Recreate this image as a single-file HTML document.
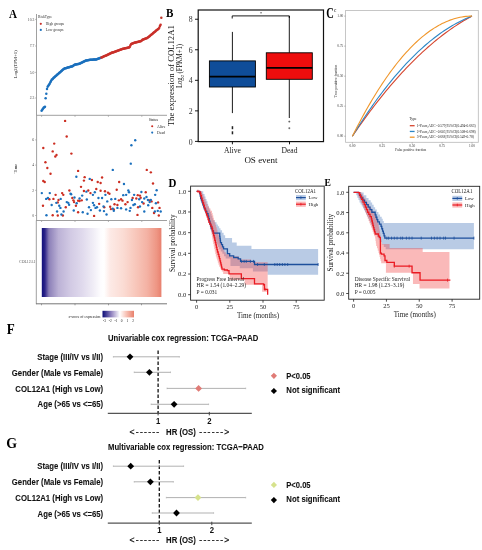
<!DOCTYPE html>
<html><head><meta charset="utf-8"><style>
html,body{margin:0;padding:0;background:#fff;width:482px;height:550px;overflow:hidden}
svg{display:block;filter:blur(0.3px)}
</style></head><body>
<svg width="482" height="550" viewBox="0 0 482 550">
<rect width="482" height="550" fill="#fff"/>
<text x="8.90" y="17.50" font-size="12" text-anchor="start" font-family="'Liberation Serif', serif" font-weight="bold" fill="#000" textLength="8.0" lengthAdjust="spacingAndGlyphs">A</text>
<text x="166.10" y="16.60" font-size="12.3" text-anchor="start" font-family="'Liberation Serif', serif" font-weight="bold" fill="#000" textLength="7.4" lengthAdjust="spacingAndGlyphs">B</text>
<text x="326.20" y="17.60" font-size="14.2" text-anchor="start" font-family="'Liberation Serif', serif" font-weight="bold" fill="#000" textLength="7.6" lengthAdjust="spacingAndGlyphs">C</text>
<text x="168.50" y="187.40" font-size="12" text-anchor="start" font-family="'Liberation Serif', serif" font-weight="bold" fill="#000" textLength="7.9" lengthAdjust="spacingAndGlyphs">D</text>
<text x="324.50" y="185.80" font-size="11" text-anchor="start" font-family="'Liberation Serif', serif" font-weight="bold" fill="#000" textLength="6.4" lengthAdjust="spacingAndGlyphs">E</text>
<text x="6.80" y="333.60" font-size="15" text-anchor="start" font-family="'Liberation Serif', serif" font-weight="bold" fill="#000" textLength="8.0" lengthAdjust="spacingAndGlyphs">F</text>
<text x="6.20" y="447.60" font-size="15.5" text-anchor="start" font-family="'Liberation Serif', serif" font-weight="bold" fill="#000" textLength="10.8" lengthAdjust="spacingAndGlyphs">G</text>
<text x="334.10" y="12.40" font-size="5.2" text-anchor="start" font-family="'Liberation Serif', serif" font-weight="normal" fill="#000" >c</text>
<line x1="36.50" y1="14.00" x2="36.50" y2="115.30" stroke="#959595" stroke-width="0.9" />
<line x1="36.00" y1="115.30" x2="167.00" y2="115.30" stroke="#959595" stroke-width="0.9" />
<line x1="35.00" y1="19.40" x2="36.50" y2="19.40" stroke="#959595" stroke-width="0.6" />
<text x="34.30" y="20.70" font-size="3.7" text-anchor="end" font-family="'Liberation Serif', serif" font-weight="normal" fill="#444" >10.3</text>
<line x1="35.00" y1="46.00" x2="36.50" y2="46.00" stroke="#959595" stroke-width="0.6" />
<text x="34.30" y="47.30" font-size="3.7" text-anchor="end" font-family="'Liberation Serif', serif" font-weight="normal" fill="#444" >7.7</text>
<line x1="35.00" y1="72.40" x2="36.50" y2="72.40" stroke="#959595" stroke-width="0.6" />
<text x="34.30" y="73.70" font-size="3.7" text-anchor="end" font-family="'Liberation Serif', serif" font-weight="normal" fill="#444" >5.0</text>
<line x1="35.00" y1="98.00" x2="36.50" y2="98.00" stroke="#959595" stroke-width="0.6" />
<text x="34.30" y="99.30" font-size="3.7" text-anchor="end" font-family="'Liberation Serif', serif" font-weight="normal" fill="#444" >2.3</text>
<line x1="41.60" y1="115.30" x2="41.60" y2="116.80" stroke="#959595" stroke-width="0.7" />
<line x1="41.60" y1="220.50" x2="41.60" y2="222.00" stroke="#959595" stroke-width="0.7" />
<line x1="75.00" y1="115.30" x2="75.00" y2="116.80" stroke="#959595" stroke-width="0.7" />
<line x1="75.00" y1="220.50" x2="75.00" y2="222.00" stroke="#959595" stroke-width="0.7" />
<line x1="108.40" y1="115.30" x2="108.40" y2="116.80" stroke="#959595" stroke-width="0.7" />
<line x1="108.40" y1="220.50" x2="108.40" y2="222.00" stroke="#959595" stroke-width="0.7" />
<line x1="141.80" y1="115.30" x2="141.80" y2="116.80" stroke="#959595" stroke-width="0.7" />
<line x1="141.80" y1="220.50" x2="141.80" y2="222.00" stroke="#959595" stroke-width="0.7" />
<text x="17.20" y="64.30" font-size="4.8" text-anchor="middle" font-family="'Liberation Serif', serif" font-weight="normal" fill="#222" transform="rotate(-90 17.2 64.3)" >Log2(TPM+1)</text>
<text x="38.00" y="18.20" font-size="3.7" text-anchor="start" font-family="'Liberation Serif', serif" font-weight="normal" fill="#333" >RiskType</text>
<circle cx="40.8" cy="23.8" r="1.1" fill="#c9302a"/>
<text x="45.70" y="25.10" font-size="3.7" text-anchor="start" font-family="'Liberation Serif', serif" font-weight="normal" fill="#333" >High groups</text>
<circle cx="40.8" cy="29.9" r="1.1" fill="#1b70bd"/>
<text x="45.70" y="31.30" font-size="3.7" text-anchor="start" font-family="'Liberation Serif', serif" font-weight="normal" fill="#333" >Low groups</text>
<circle cx="41.60" cy="110.80" r="1.25" fill="#1b70bd"/><circle cx="42.27" cy="109.77" r="1.25" fill="#1b70bd"/><circle cx="42.94" cy="108.75" r="1.25" fill="#1b70bd"/><circle cx="43.62" cy="107.81" r="1.25" fill="#1b70bd"/><circle cx="44.29" cy="107.27" r="1.25" fill="#1b70bd"/><circle cx="44.96" cy="106.73" r="1.25" fill="#1b70bd"/><circle cx="45.63" cy="98.35" r="1.25" fill="#1b70bd"/><circle cx="46.31" cy="93.85" r="1.25" fill="#1b70bd"/><circle cx="46.98" cy="88.99" r="1.25" fill="#1b70bd"/><circle cx="47.65" cy="86.71" r="1.25" fill="#1b70bd"/><circle cx="48.32" cy="85.69" r="1.25" fill="#1b70bd"/><circle cx="49.00" cy="84.67" r="1.25" fill="#1b70bd"/><circle cx="49.67" cy="83.65" r="1.25" fill="#1b70bd"/><circle cx="50.34" cy="82.35" r="1.25" fill="#1b70bd"/><circle cx="51.01" cy="81.04" r="1.25" fill="#1b70bd"/><circle cx="51.68" cy="79.82" r="1.25" fill="#1b70bd"/><circle cx="52.36" cy="79.14" r="1.25" fill="#1b70bd"/><circle cx="53.03" cy="78.47" r="1.25" fill="#1b70bd"/><circle cx="53.70" cy="77.80" r="1.25" fill="#1b70bd"/><circle cx="54.37" cy="77.13" r="1.25" fill="#1b70bd"/><circle cx="55.05" cy="76.51" r="1.25" fill="#1b70bd"/><circle cx="55.72" cy="75.95" r="1.25" fill="#1b70bd"/><circle cx="56.39" cy="75.38" r="1.25" fill="#1b70bd"/><circle cx="57.06" cy="74.82" r="1.25" fill="#1b70bd"/><circle cx="57.74" cy="74.26" r="1.25" fill="#1b70bd"/><circle cx="58.41" cy="73.69" r="1.25" fill="#1b70bd"/><circle cx="59.08" cy="73.09" r="1.25" fill="#1b70bd"/><circle cx="59.75" cy="72.49" r="1.25" fill="#1b70bd"/><circle cx="60.42" cy="71.89" r="1.25" fill="#1b70bd"/><circle cx="61.10" cy="71.29" r="1.25" fill="#1b70bd"/><circle cx="61.77" cy="70.69" r="1.25" fill="#1b70bd"/><circle cx="62.44" cy="70.09" r="1.25" fill="#1b70bd"/><circle cx="63.11" cy="69.49" r="1.25" fill="#1b70bd"/><circle cx="63.79" cy="68.89" r="1.25" fill="#1b70bd"/><circle cx="64.46" cy="68.56" r="1.25" fill="#1b70bd"/><circle cx="65.13" cy="68.37" r="1.25" fill="#1b70bd"/><circle cx="65.80" cy="68.17" r="1.25" fill="#1b70bd"/><circle cx="66.48" cy="67.97" r="1.25" fill="#1b70bd"/><circle cx="67.15" cy="67.77" r="1.25" fill="#1b70bd"/><circle cx="67.82" cy="67.57" r="1.25" fill="#1b70bd"/><circle cx="68.49" cy="67.37" r="1.25" fill="#1b70bd"/><circle cx="69.16" cy="67.19" r="1.25" fill="#1b70bd"/><circle cx="69.84" cy="67.00" r="1.25" fill="#1b70bd"/><circle cx="70.51" cy="66.81" r="1.25" fill="#1b70bd"/><circle cx="71.18" cy="66.62" r="1.25" fill="#1b70bd"/><circle cx="71.85" cy="66.44" r="1.25" fill="#1b70bd"/><circle cx="72.53" cy="66.25" r="1.25" fill="#1b70bd"/><circle cx="73.20" cy="65.81" r="1.25" fill="#1b70bd"/><circle cx="73.87" cy="65.28" r="1.25" fill="#1b70bd"/><circle cx="74.54" cy="64.74" r="1.25" fill="#1b70bd"/><circle cx="75.22" cy="64.58" r="1.25" fill="#1b70bd"/><circle cx="75.89" cy="64.44" r="1.25" fill="#1b70bd"/><circle cx="76.56" cy="64.31" r="1.25" fill="#1b70bd"/><circle cx="77.23" cy="64.17" r="1.25" fill="#1b70bd"/><circle cx="77.91" cy="64.04" r="1.25" fill="#1b70bd"/><circle cx="78.58" cy="63.90" r="1.25" fill="#1b70bd"/><circle cx="79.25" cy="63.77" r="1.25" fill="#1b70bd"/><circle cx="79.92" cy="63.54" r="1.25" fill="#1b70bd"/><circle cx="80.59" cy="63.20" r="1.25" fill="#1b70bd"/><circle cx="81.27" cy="62.87" r="1.25" fill="#1b70bd"/><circle cx="81.94" cy="62.53" r="1.25" fill="#1b70bd"/><circle cx="82.61" cy="62.19" r="1.25" fill="#1b70bd"/><circle cx="83.28" cy="61.86" r="1.25" fill="#1b70bd"/><circle cx="83.96" cy="61.52" r="1.25" fill="#1b70bd"/><circle cx="84.63" cy="61.19" r="1.25" fill="#1b70bd"/><circle cx="85.30" cy="60.85" r="1.25" fill="#1b70bd"/><circle cx="85.97" cy="60.57" r="1.25" fill="#1b70bd"/><circle cx="86.65" cy="60.45" r="1.25" fill="#1b70bd"/><circle cx="87.32" cy="60.33" r="1.25" fill="#1b70bd"/><circle cx="87.99" cy="60.21" r="1.25" fill="#1b70bd"/><circle cx="88.66" cy="60.08" r="1.25" fill="#1b70bd"/><circle cx="89.33" cy="59.96" r="1.25" fill="#1b70bd"/><circle cx="90.01" cy="59.84" r="1.25" fill="#1b70bd"/><circle cx="90.68" cy="59.72" r="1.25" fill="#1b70bd"/><circle cx="91.35" cy="59.68" r="1.25" fill="#1b70bd"/><circle cx="92.02" cy="59.65" r="1.25" fill="#1b70bd"/><circle cx="92.70" cy="59.63" r="1.25" fill="#1b70bd"/><circle cx="93.37" cy="59.60" r="1.25" fill="#1b70bd"/><circle cx="94.04" cy="59.58" r="1.25" fill="#1b70bd"/><circle cx="94.71" cy="59.55" r="1.25" fill="#1b70bd"/><circle cx="95.39" cy="59.52" r="1.25" fill="#1b70bd"/><circle cx="96.06" cy="59.48" r="1.25" fill="#1b70bd"/><circle cx="96.73" cy="59.23" r="1.25" fill="#1b70bd"/><circle cx="97.40" cy="58.98" r="1.25" fill="#1b70bd"/><circle cx="98.07" cy="58.73" r="1.25" fill="#1b70bd"/><circle cx="98.75" cy="58.48" r="1.25" fill="#1b70bd"/><circle cx="99.42" cy="58.23" r="1.25" fill="#1b70bd"/><circle cx="100.09" cy="57.98" r="1.25" fill="#1b70bd"/><circle cx="100.76" cy="57.74" r="1.25" fill="#1b70bd"/><circle cx="101.44" cy="57.48" r="1.25" fill="#c9302a"/><circle cx="102.11" cy="57.19" r="1.25" fill="#c9302a"/><circle cx="102.78" cy="56.90" r="1.25" fill="#c9302a"/><circle cx="103.45" cy="56.60" r="1.25" fill="#c9302a"/><circle cx="104.13" cy="56.31" r="1.25" fill="#c9302a"/><circle cx="104.80" cy="56.02" r="1.25" fill="#c9302a"/><circle cx="105.47" cy="55.72" r="1.25" fill="#c9302a"/><circle cx="106.14" cy="55.43" r="1.25" fill="#c9302a"/><circle cx="106.81" cy="55.14" r="1.25" fill="#c9302a"/><circle cx="107.49" cy="54.81" r="1.25" fill="#c9302a"/><circle cx="108.16" cy="54.48" r="1.25" fill="#c9302a"/><circle cx="108.83" cy="54.15" r="1.25" fill="#c9302a"/><circle cx="109.50" cy="53.83" r="1.25" fill="#c9302a"/><circle cx="110.18" cy="53.50" r="1.25" fill="#c9302a"/><circle cx="110.85" cy="53.17" r="1.25" fill="#c9302a"/><circle cx="111.52" cy="52.84" r="1.25" fill="#c9302a"/><circle cx="112.19" cy="52.61" r="1.25" fill="#c9302a"/><circle cx="112.87" cy="52.39" r="1.25" fill="#c9302a"/><circle cx="113.54" cy="52.17" r="1.25" fill="#c9302a"/><circle cx="114.21" cy="51.96" r="1.25" fill="#c9302a"/><circle cx="114.88" cy="51.74" r="1.25" fill="#c9302a"/><circle cx="115.55" cy="51.52" r="1.25" fill="#c9302a"/><circle cx="116.23" cy="51.31" r="1.25" fill="#c9302a"/><circle cx="116.90" cy="51.09" r="1.25" fill="#c9302a"/><circle cx="117.57" cy="50.87" r="1.25" fill="#c9302a"/><circle cx="118.24" cy="50.62" r="1.25" fill="#c9302a"/><circle cx="118.92" cy="50.35" r="1.25" fill="#c9302a"/><circle cx="119.59" cy="50.08" r="1.25" fill="#c9302a"/><circle cx="120.26" cy="49.81" r="1.25" fill="#c9302a"/><circle cx="120.93" cy="49.53" r="1.25" fill="#c9302a"/><circle cx="121.61" cy="49.26" r="1.25" fill="#c9302a"/><circle cx="122.28" cy="48.99" r="1.25" fill="#c9302a"/><circle cx="122.95" cy="48.80" r="1.25" fill="#c9302a"/><circle cx="123.62" cy="48.64" r="1.25" fill="#c9302a"/><circle cx="124.29" cy="48.49" r="1.25" fill="#c9302a"/><circle cx="124.97" cy="48.34" r="1.25" fill="#c9302a"/><circle cx="125.64" cy="48.18" r="1.25" fill="#c9302a"/><circle cx="126.31" cy="48.03" r="1.25" fill="#c9302a"/><circle cx="126.98" cy="47.88" r="1.25" fill="#c9302a"/><circle cx="127.66" cy="47.72" r="1.25" fill="#c9302a"/><circle cx="128.33" cy="47.57" r="1.25" fill="#c9302a"/><circle cx="129.00" cy="47.41" r="1.25" fill="#c9302a"/><circle cx="129.67" cy="46.94" r="1.25" fill="#c9302a"/><circle cx="130.35" cy="45.55" r="1.25" fill="#c9302a"/><circle cx="131.02" cy="44.19" r="1.25" fill="#c9302a"/><circle cx="131.69" cy="43.84" r="1.25" fill="#c9302a"/><circle cx="132.36" cy="43.49" r="1.25" fill="#c9302a"/><circle cx="133.04" cy="43.14" r="1.25" fill="#c9302a"/><circle cx="133.71" cy="42.90" r="1.25" fill="#c9302a"/><circle cx="134.38" cy="42.74" r="1.25" fill="#c9302a"/><circle cx="135.05" cy="42.57" r="1.25" fill="#c9302a"/><circle cx="135.72" cy="42.41" r="1.25" fill="#c9302a"/><circle cx="136.40" cy="42.25" r="1.25" fill="#c9302a"/><circle cx="137.07" cy="42.08" r="1.25" fill="#c9302a"/><circle cx="137.74" cy="41.92" r="1.25" fill="#c9302a"/><circle cx="138.41" cy="41.75" r="1.25" fill="#c9302a"/><circle cx="139.09" cy="41.59" r="1.25" fill="#c9302a"/><circle cx="139.76" cy="41.43" r="1.25" fill="#c9302a"/><circle cx="140.43" cy="41.26" r="1.25" fill="#c9302a"/><circle cx="141.10" cy="41.10" r="1.25" fill="#c9302a"/><circle cx="141.78" cy="40.47" r="1.25" fill="#c9302a"/><circle cx="142.45" cy="39.84" r="1.25" fill="#c9302a"/><circle cx="143.12" cy="39.45" r="1.25" fill="#c9302a"/><circle cx="143.79" cy="39.22" r="1.25" fill="#c9302a"/><circle cx="144.46" cy="38.99" r="1.25" fill="#c9302a"/><circle cx="145.14" cy="38.75" r="1.25" fill="#c9302a"/><circle cx="145.81" cy="38.52" r="1.25" fill="#c9302a"/><circle cx="146.48" cy="38.28" r="1.25" fill="#c9302a"/><circle cx="147.15" cy="38.05" r="1.25" fill="#c9302a"/><circle cx="147.83" cy="37.56" r="1.25" fill="#c9302a"/><circle cx="148.50" cy="37.01" r="1.25" fill="#c9302a"/><circle cx="149.17" cy="36.45" r="1.25" fill="#c9302a"/><circle cx="149.84" cy="35.89" r="1.25" fill="#c9302a"/><circle cx="150.52" cy="35.33" r="1.25" fill="#c9302a"/><circle cx="151.19" cy="34.77" r="1.25" fill="#c9302a"/><circle cx="151.86" cy="34.22" r="1.25" fill="#c9302a"/><circle cx="152.53" cy="33.66" r="1.25" fill="#c9302a"/><circle cx="153.20" cy="33.10" r="1.25" fill="#c9302a"/><circle cx="153.88" cy="32.54" r="1.25" fill="#c9302a"/><circle cx="154.55" cy="31.98" r="1.25" fill="#c9302a"/><circle cx="155.22" cy="31.43" r="1.25" fill="#c9302a"/><circle cx="155.89" cy="30.87" r="1.25" fill="#c9302a"/><circle cx="156.57" cy="30.31" r="1.25" fill="#c9302a"/><circle cx="157.24" cy="29.78" r="1.25" fill="#c9302a"/><circle cx="157.91" cy="29.25" r="1.25" fill="#c9302a"/><circle cx="158.58" cy="28.73" r="1.25" fill="#c9302a"/><circle cx="159.26" cy="27.73" r="1.25" fill="#c9302a"/><circle cx="159.93" cy="26.06" r="1.25" fill="#c9302a"/><circle cx="160.60" cy="24.80" r="1.25" fill="#c9302a"/>
<circle cx="161.3" cy="17.8" r="1.25" fill="#c0392b"/>
<line x1="36.60" y1="115.30" x2="36.60" y2="220.50" stroke="#959595" stroke-width="0.9" />
<line x1="36.00" y1="220.50" x2="167.00" y2="220.50" stroke="#959595" stroke-width="0.9" />
<line x1="35.00" y1="215.50" x2="36.60" y2="215.50" stroke="#959595" stroke-width="0.6" />
<text x="34.00" y="216.80" font-size="3.7" text-anchor="end" font-family="'Liberation Serif', serif" font-weight="normal" fill="#444" >0</text>
<line x1="35.00" y1="190.30" x2="36.60" y2="190.30" stroke="#959595" stroke-width="0.6" />
<text x="34.00" y="191.60" font-size="3.7" text-anchor="end" font-family="'Liberation Serif', serif" font-weight="normal" fill="#444" >2</text>
<line x1="35.00" y1="165.10" x2="36.60" y2="165.10" stroke="#959595" stroke-width="0.6" />
<text x="34.00" y="166.40" font-size="3.7" text-anchor="end" font-family="'Liberation Serif', serif" font-weight="normal" fill="#444" >4</text>
<line x1="35.00" y1="139.90" x2="36.60" y2="139.90" stroke="#959595" stroke-width="0.6" />
<text x="34.00" y="141.20" font-size="3.7" text-anchor="end" font-family="'Liberation Serif', serif" font-weight="normal" fill="#444" >6</text>
<text x="17.20" y="168.50" font-size="4.6" text-anchor="middle" font-family="'Liberation Serif', serif" font-weight="normal" fill="#222" transform="rotate(-90 17.2 168.5)" >Time</text>
<text x="148.70" y="121.00" font-size="3.8" text-anchor="start" font-family="'Liberation Serif', serif" font-weight="normal" fill="#222" >Status</text>
<circle cx="152.2" cy="126.2" r="1.05" fill="#cc2e22"/>
<text x="157.00" y="127.50" font-size="3.8" text-anchor="start" font-family="'Liberation Serif', serif" font-weight="normal" fill="#222" >Alive</text>
<circle cx="152.2" cy="132.6" r="1.05" fill="#1b70bd"/>
<text x="157.00" y="133.90" font-size="3.8" text-anchor="start" font-family="'Liberation Serif', serif" font-weight="normal" fill="#222" >Dead</text>
<circle cx="65.1" cy="120.9" r="1.2" fill="#cc2e22"/><circle cx="66.7" cy="136.5" r="1.2" fill="#cc2e22"/><circle cx="43.3" cy="148" r="1.2" fill="#cc2e22"/><circle cx="54.2" cy="143.6" r="1.2" fill="#cc2e22"/><circle cx="52.7" cy="151.4" r="1.2" fill="#cc2e22"/><circle cx="71.4" cy="153.6" r="1.2" fill="#cc2e22"/><circle cx="135.2" cy="140.2" r="1.2" fill="#1b70bd"/><circle cx="131.4" cy="145.2" r="1.2" fill="#1b70bd"/><circle cx="56.5" cy="155" r="1.2" fill="#cc2e22"/><circle cx="55.3" cy="156.5" r="1.2" fill="#cc2e22"/><circle cx="45.44" cy="162.18" r="1.2" fill="#cc2e22"/><circle cx="47.33" cy="167.99" r="1.2" fill="#cc2e22"/><circle cx="50.52" cy="173.80" r="1.2" fill="#cc2e22"/><circle cx="43.26" cy="181.06" r="1.2" fill="#cc2e22"/><circle cx="44.71" cy="182.07" r="1.2" fill="#cc2e22"/><circle cx="78.11" cy="170.89" r="1.2" fill="#cc2e22"/><circle cx="84.65" cy="177.14" r="1.2" fill="#cc2e22"/><circle cx="83.92" cy="180.62" r="1.2" fill="#cc2e22"/><circle cx="91.91" cy="180.04" r="1.2" fill="#cc2e22"/><circle cx="102.08" cy="177.43" r="1.2" fill="#cc2e22"/><circle cx="97.72" cy="182.07" r="1.2" fill="#cc2e22"/><circle cx="100.62" cy="182.95" r="1.2" fill="#cc2e22"/><circle cx="81.02" cy="186.87" r="1.2" fill="#cc2e22"/><circle cx="83.92" cy="190.93" r="1.2" fill="#cc2e22"/><circle cx="88.28" cy="190.50" r="1.2" fill="#cc2e22"/><circle cx="90.46" cy="193.11" r="1.2" fill="#cc2e22"/><circle cx="69.40" cy="190.50" r="1.2" fill="#cc2e22"/><circle cx="62.14" cy="193.11" r="1.2" fill="#cc2e22"/><circle cx="63.30" cy="194.85" r="1.2" fill="#cc2e22"/><circle cx="55.60" cy="194.85" r="1.2" fill="#cc2e22"/><circle cx="49.36" cy="199.21" r="1.2" fill="#cc2e22"/><circle cx="53.43" cy="198.92" r="1.2" fill="#cc2e22"/><circle cx="58.51" cy="199.94" r="1.2" fill="#cc2e22"/><circle cx="57.78" cy="202.40" r="1.2" fill="#cc2e22"/><circle cx="42.97" cy="205.74" r="1.2" fill="#cc2e22"/><circle cx="65.77" cy="207.20" r="1.2" fill="#cc2e22"/><circle cx="72.31" cy="198.05" r="1.2" fill="#cc2e22"/><circle cx="73.47" cy="200.37" r="1.2" fill="#cc2e22"/><circle cx="74.05" cy="202.11" r="1.2" fill="#cc2e22"/><circle cx="75.94" cy="205.74" r="1.2" fill="#cc2e22"/><circle cx="78.11" cy="200.66" r="1.2" fill="#cc2e22"/><circle cx="79.57" cy="200.95" r="1.2" fill="#cc2e22"/><circle cx="81.74" cy="200.37" r="1.2" fill="#cc2e22"/><circle cx="96.27" cy="189.04" r="1.2" fill="#cc2e22"/><circle cx="100.62" cy="190.79" r="1.2" fill="#cc2e22"/><circle cx="104.98" cy="191.22" r="1.2" fill="#cc2e22"/><circle cx="99.17" cy="203.86" r="1.2" fill="#cc2e22"/><circle cx="104.25" cy="207.20" r="1.2" fill="#cc2e22"/><circle cx="52.70" cy="215.18" r="1.2" fill="#cc2e22"/><circle cx="57.78" cy="215.47" r="1.2" fill="#cc2e22"/><circle cx="62.87" cy="215.47" r="1.2" fill="#cc2e22"/><circle cx="78.11" cy="212.28" r="1.2" fill="#cc2e22"/><circle cx="94.09" cy="215.91" r="1.2" fill="#cc2e22"/><circle cx="41.81" cy="193.11" r="1.2" fill="#1b70bd"/><circle cx="49.80" cy="193.11" r="1.2" fill="#1b70bd"/><circle cx="46.17" cy="198.92" r="1.2" fill="#1b70bd"/><circle cx="47.91" cy="198.05" r="1.2" fill="#1b70bd"/><circle cx="51.68" cy="205.02" r="1.2" fill="#1b70bd"/><circle cx="56.33" cy="202.84" r="1.2" fill="#1b70bd"/><circle cx="59.24" cy="205.74" r="1.2" fill="#1b70bd"/><circle cx="60.40" cy="207.92" r="1.2" fill="#1b70bd"/><circle cx="60.69" cy="198.92" r="1.2" fill="#1b70bd"/><circle cx="57.06" cy="211.55" r="1.2" fill="#1b70bd"/><circle cx="61.41" cy="214.46" r="1.2" fill="#1b70bd"/><circle cx="63.59" cy="211.55" r="1.2" fill="#1b70bd"/><circle cx="66.79" cy="202.11" r="1.2" fill="#1b70bd"/><circle cx="68.24" cy="202.84" r="1.2" fill="#1b70bd"/><circle cx="69.11" cy="204.73" r="1.2" fill="#1b70bd"/><circle cx="70.56" cy="193.69" r="1.2" fill="#1b70bd"/><circle cx="71.14" cy="194.27" r="1.2" fill="#1b70bd"/><circle cx="74.48" cy="197.47" r="1.2" fill="#1b70bd"/><circle cx="76.66" cy="203.28" r="1.2" fill="#1b70bd"/><circle cx="79.57" cy="198.48" r="1.2" fill="#1b70bd"/><circle cx="82.18" cy="195.58" r="1.2" fill="#1b70bd"/><circle cx="86.39" cy="191.66" r="1.2" fill="#1b70bd"/><circle cx="86.83" cy="199.50" r="1.2" fill="#1b70bd"/><circle cx="89.01" cy="207.20" r="1.2" fill="#1b70bd"/><circle cx="90.89" cy="210.10" r="1.2" fill="#1b70bd"/><circle cx="92.93" cy="194.85" r="1.2" fill="#1b70bd"/><circle cx="92.93" cy="202.84" r="1.2" fill="#1b70bd"/><circle cx="94.81" cy="192.24" r="1.2" fill="#1b70bd"/><circle cx="94.09" cy="205.31" r="1.2" fill="#1b70bd"/><circle cx="95.54" cy="207.92" r="1.2" fill="#1b70bd"/><circle cx="96.99" cy="207.20" r="1.2" fill="#1b70bd"/><circle cx="98.45" cy="198.05" r="1.2" fill="#1b70bd"/><circle cx="102.08" cy="198.05" r="1.2" fill="#1b70bd"/><circle cx="99.90" cy="210.54" r="1.2" fill="#1b70bd"/><circle cx="103.96" cy="211.12" r="1.2" fill="#1b70bd"/><circle cx="103.53" cy="206.47" r="1.2" fill="#1b70bd"/><circle cx="105.42" cy="194.85" r="1.2" fill="#1b70bd"/><circle cx="73.76" cy="210.54" r="1.2" fill="#1b70bd"/><circle cx="82.76" cy="212.28" r="1.2" fill="#1b70bd"/><circle cx="87.55" cy="213.73" r="1.2" fill="#1b70bd"/><circle cx="46.46" cy="215.18" r="1.2" fill="#1b70bd"/><circle cx="76.37" cy="176.70" r="1.2" fill="#1b70bd"/><circle cx="89.73" cy="178.88" r="1.2" fill="#1b70bd"/><circle cx="107.99" cy="192.67" r="1.2" fill="#cc2e22"/><circle cx="109.44" cy="193.69" r="1.2" fill="#cc2e22"/><circle cx="119.17" cy="182.07" r="1.2" fill="#cc2e22"/><circle cx="116.70" cy="189.77" r="1.2" fill="#cc2e22"/><circle cx="118.88" cy="200.37" r="1.2" fill="#cc2e22"/><circle cx="121.06" cy="199.21" r="1.2" fill="#cc2e22"/><circle cx="122.51" cy="200.66" r="1.2" fill="#cc2e22"/><circle cx="114.52" cy="204.29" r="1.2" fill="#cc2e22"/><circle cx="117.43" cy="205.02" r="1.2" fill="#cc2e22"/><circle cx="125.41" cy="204.29" r="1.2" fill="#cc2e22"/><circle cx="127.59" cy="202.11" r="1.2" fill="#cc2e22"/><circle cx="132.67" cy="198.05" r="1.2" fill="#cc2e22"/><circle cx="136.31" cy="198.48" r="1.2" fill="#cc2e22"/><circle cx="137.76" cy="195.14" r="1.2" fill="#cc2e22"/><circle cx="139.94" cy="195.58" r="1.2" fill="#cc2e22"/><circle cx="140.66" cy="197.76" r="1.2" fill="#cc2e22"/><circle cx="143.57" cy="203.57" r="1.2" fill="#cc2e22"/><circle cx="145.74" cy="192.24" r="1.2" fill="#cc2e22"/><circle cx="146.76" cy="169.88" r="1.2" fill="#cc2e22"/><circle cx="150.83" cy="172.34" r="1.2" fill="#cc2e22"/><circle cx="153.01" cy="183.53" r="1.2" fill="#cc2e22"/><circle cx="149.38" cy="200.37" r="1.2" fill="#cc2e22"/><circle cx="151.55" cy="201.39" r="1.2" fill="#cc2e22"/><circle cx="110.17" cy="206.76" r="1.2" fill="#cc2e22"/><circle cx="110.89" cy="209.09" r="1.2" fill="#cc2e22"/><circle cx="113.80" cy="209.38" r="1.2" fill="#cc2e22"/><circle cx="138.05" cy="207.20" r="1.2" fill="#cc2e22"/><circle cx="137.47" cy="214.89" r="1.2" fill="#cc2e22"/><circle cx="152.28" cy="207.92" r="1.2" fill="#cc2e22"/><circle cx="154.02" cy="213.01" r="1.2" fill="#cc2e22"/><circle cx="159.54" cy="207.92" r="1.2" fill="#cc2e22"/><circle cx="158.09" cy="202.40" r="1.2" fill="#cc2e22"/><circle cx="158.81" cy="215.47" r="1.2" fill="#cc2e22"/><circle cx="112.78" cy="169.88" r="1.2" fill="#1b70bd"/><circle cx="130.79" cy="163.63" r="1.2" fill="#1b70bd"/><circle cx="123.96" cy="183.96" r="1.2" fill="#1b70bd"/><circle cx="107.26" cy="201.39" r="1.2" fill="#1b70bd"/><circle cx="111.33" cy="199.21" r="1.2" fill="#1b70bd"/><circle cx="115.25" cy="198.92" r="1.2" fill="#1b70bd"/><circle cx="123.24" cy="195.14" r="1.2" fill="#1b70bd"/><circle cx="126.14" cy="194.85" r="1.2" fill="#1b70bd"/><circle cx="128.32" cy="190.50" r="1.2" fill="#1b70bd"/><circle cx="129.04" cy="192.24" r="1.2" fill="#1b70bd"/><circle cx="134.13" cy="194.85" r="1.2" fill="#1b70bd"/><circle cx="131.95" cy="199.94" r="1.2" fill="#1b70bd"/><circle cx="134.85" cy="204.29" r="1.2" fill="#1b70bd"/><circle cx="139.21" cy="199.21" r="1.2" fill="#1b70bd"/><circle cx="141.39" cy="191.95" r="1.2" fill="#1b70bd"/><circle cx="142.11" cy="202.11" r="1.2" fill="#1b70bd"/><circle cx="144.29" cy="198.48" r="1.2" fill="#1b70bd"/><circle cx="146.47" cy="197.03" r="1.2" fill="#1b70bd"/><circle cx="147.92" cy="199.94" r="1.2" fill="#1b70bd"/><circle cx="149.67" cy="202.11" r="1.2" fill="#1b70bd"/><circle cx="150.83" cy="199.94" r="1.2" fill="#1b70bd"/><circle cx="156.64" cy="190.21" r="1.2" fill="#1b70bd"/><circle cx="155.18" cy="194.85" r="1.2" fill="#1b70bd"/><circle cx="155.91" cy="203.28" r="1.2" fill="#1b70bd"/><circle cx="148.21" cy="205.31" r="1.2" fill="#1b70bd"/><circle cx="106.53" cy="214.46" r="1.2" fill="#1b70bd"/><circle cx="112.78" cy="208.65" r="1.2" fill="#1b70bd"/><circle cx="113.80" cy="210.83" r="1.2" fill="#1b70bd"/><circle cx="117.43" cy="207.92" r="1.2" fill="#1b70bd"/><circle cx="121.06" cy="208.21" r="1.2" fill="#1b70bd"/><circle cx="126.14" cy="209.38" r="1.2" fill="#1b70bd"/><circle cx="129.77" cy="210.83" r="1.2" fill="#1b70bd"/><circle cx="130.50" cy="207.92" r="1.2" fill="#1b70bd"/><circle cx="133.40" cy="205.02" r="1.2" fill="#1b70bd"/><circle cx="139.94" cy="206.47" r="1.2" fill="#1b70bd"/><circle cx="144.29" cy="211.55" r="1.2" fill="#1b70bd"/><circle cx="154.89" cy="211.55" r="1.2" fill="#1b70bd"/><circle cx="157.80" cy="210.83" r="1.2" fill="#1b70bd"/><circle cx="160.70" cy="211.55" r="1.2" fill="#1b70bd"/>
<line x1="36.30" y1="220.50" x2="36.30" y2="304.20" stroke="#959595" stroke-width="0.9" />
<line x1="36.00" y1="303.80" x2="167.00" y2="303.80" stroke="#777" stroke-width="1.0" />
<line x1="41.50" y1="303.80" x2="41.50" y2="305.30" stroke="#777" stroke-width="0.7" />
<line x1="75.00" y1="303.80" x2="75.00" y2="305.30" stroke="#777" stroke-width="0.7" />
<line x1="108.50" y1="303.80" x2="108.50" y2="305.30" stroke="#777" stroke-width="0.7" />
<line x1="141.50" y1="303.80" x2="141.50" y2="305.30" stroke="#777" stroke-width="0.7" />
<text x="35.50" y="263.20" font-size="3.9" text-anchor="end" font-family="'Liberation Serif', serif" font-weight="normal" fill="#555" >COL12A1</text>
<defs><linearGradient id="hm" gradientUnits="userSpaceOnUse" x1="41.8" x2="161.4" y1="0" y2="0">
<stop offset="0" stop-color="#10107c"/>
<stop offset="0.025" stop-color="#2c2488"/>
<stop offset="0.06" stop-color="#8c80b8"/>
<stop offset="0.14" stop-color="#bcb2d6"/>
<stop offset="0.24" stop-color="#d2cae4"/>
<stop offset="0.34" stop-color="#e0daed"/>
<stop offset="0.43" stop-color="#f0edf6"/>
<stop offset="0.49" stop-color="#fdfcfe"/>
<stop offset="0.52" stop-color="#ffffff"/>
<stop offset="0.57" stop-color="#fdeae6"/>
<stop offset="0.68" stop-color="#fbdcd4"/>
<stop offset="0.78" stop-color="#f8c8bc"/>
<stop offset="0.88" stop-color="#f4b2a4"/>
<stop offset="0.96" stop-color="#ee9684"/>
<stop offset="1" stop-color="#e8806e"/>
</linearGradient>
<linearGradient id="cb" x1="0" x2="1" y1="0" y2="0">
<stop offset="0" stop-color="#0c0c78"/>
<stop offset="0.3" stop-color="#9a8cc4"/>
<stop offset="0.55" stop-color="#ffffff"/>
<stop offset="0.75" stop-color="#f8c4b8"/>
<stop offset="1" stop-color="#e8806c"/>
</linearGradient></defs>
<rect x="41.8" y="228" width="119.6" height="69" fill="url(#hm)"/>
<text x="68.50" y="318.00" font-size="3.78" text-anchor="start" font-family="'Liberation Serif', serif" font-weight="normal" fill="#1a1a1a" >z-score of expression</text>
<rect x="102.5" y="310.8" width="31.5" height="6.6" fill="url(#cb)"/>
<text x="104.50" y="322.00" font-size="3.5" text-anchor="middle" font-family="'Liberation Serif', serif" font-weight="normal" fill="#1a1a1a" >-3</text>
<text x="110.20" y="322.00" font-size="3.5" text-anchor="middle" font-family="'Liberation Serif', serif" font-weight="normal" fill="#1a1a1a" >-2</text>
<text x="115.90" y="322.00" font-size="3.5" text-anchor="middle" font-family="'Liberation Serif', serif" font-weight="normal" fill="#1a1a1a" >-1</text>
<text x="121.60" y="322.00" font-size="3.5" text-anchor="middle" font-family="'Liberation Serif', serif" font-weight="normal" fill="#1a1a1a" >0</text>
<text x="127.30" y="322.00" font-size="3.5" text-anchor="middle" font-family="'Liberation Serif', serif" font-weight="normal" fill="#1a1a1a" >1</text>
<text x="133.00" y="322.00" font-size="3.5" text-anchor="middle" font-family="'Liberation Serif', serif" font-weight="normal" fill="#1a1a1a" >2</text>
<rect x="198.2" y="10" width="125.3" height="131.6" fill="none" stroke="#111" stroke-width="1.2"/>
<line x1="195.00" y1="141.40" x2="198.20" y2="141.40" stroke="#000" stroke-width="0.9" />
<text x="192.60" y="144.50" font-size="7.8" text-anchor="end" font-family="'Liberation Serif', serif" font-weight="normal" fill="#333" >0</text>
<line x1="195.00" y1="110.86" x2="198.20" y2="110.86" stroke="#000" stroke-width="0.9" />
<text x="192.60" y="113.96" font-size="7.8" text-anchor="end" font-family="'Liberation Serif', serif" font-weight="normal" fill="#333" >2</text>
<line x1="195.00" y1="80.32" x2="198.20" y2="80.32" stroke="#000" stroke-width="0.9" />
<text x="192.60" y="83.42" font-size="7.8" text-anchor="end" font-family="'Liberation Serif', serif" font-weight="normal" fill="#333" >4</text>
<line x1="195.00" y1="49.78" x2="198.20" y2="49.78" stroke="#000" stroke-width="0.9" />
<text x="192.60" y="52.88" font-size="7.8" text-anchor="end" font-family="'Liberation Serif', serif" font-weight="normal" fill="#333" >6</text>
<line x1="195.00" y1="19.24" x2="198.20" y2="19.24" stroke="#000" stroke-width="0.9" />
<text x="192.60" y="22.34" font-size="7.8" text-anchor="end" font-family="'Liberation Serif', serif" font-weight="normal" fill="#333" >8</text>
<text x="173.60" y="75.70" font-size="8.85" text-anchor="middle" font-family="'Liberation Serif', serif" font-weight="normal" fill="#111" transform="rotate(-90 173.6 75.7)" textLength="101" lengthAdjust="spacingAndGlyphs">The expression of COL12A1</text>
<text x="182" y="66" font-size="7.6" text-anchor="middle" font-family="'Liberation Serif', serif" fill="#111" transform="rotate(-90 182 66)" textLength="44" lengthAdjust="spacingAndGlyphs">Log<tspan font-size="5" dy="1.8">2</tspan><tspan dy="-1.8"> (FPKM+1)</tspan></text>
<line x1="232.40" y1="141.40" x2="232.40" y2="144.30" stroke="#000" stroke-width="0.9" />
<line x1="289.50" y1="141.40" x2="289.50" y2="144.30" stroke="#000" stroke-width="0.9" />
<text x="232.40" y="152.70" font-size="7.6" text-anchor="middle" font-family="'Liberation Serif', serif" font-weight="normal" fill="#222" >Alive</text>
<text x="289.50" y="152.70" font-size="7.6" text-anchor="middle" font-family="'Liberation Serif', serif" font-weight="normal" fill="#222" >Dead</text>
<text x="261.00" y="163.00" font-size="9.0" text-anchor="middle" font-family="'Liberation Serif', serif" font-weight="normal" fill="#111" >OS event</text>
<line x1="232.40" y1="31.90" x2="232.40" y2="60.90" stroke="#000" stroke-width="0.9" />
<line x1="232.40" y1="87.00" x2="232.40" y2="113.10" stroke="#000" stroke-width="0.9" />
<rect x="209.4" y="60.9" width="46" height="26.1" fill="#0f4d99" stroke="#000" stroke-width="0.9"/>
<line x1="209.40" y1="76.60" x2="255.40" y2="76.60" stroke="#000" stroke-width="1.8" />
<rect x="231.7" y="126.2" width="1.5" height="3" fill="#222"/>
<rect x="231.7" y="131.3" width="1.5" height="3" fill="#222"/>
<line x1="289.30" y1="15.90" x2="289.30" y2="52.80" stroke="#000" stroke-width="0.9" />
<line x1="289.30" y1="79.30" x2="289.30" y2="118.00" stroke="#000" stroke-width="0.9" />
<rect x="266.3" y="52.8" width="46" height="26.5" fill="#ee0d0d" stroke="#000" stroke-width="0.9"/>
<line x1="266.30" y1="67.80" x2="312.30" y2="67.80" stroke="#000" stroke-width="1.8" />
<path d="M288.3 121.6h2M289.3 120.6v2" stroke="#333" stroke-width="0.6"/>
<path d="M288.3 128.2h2M289.3 127.19999999999999v2" stroke="#333" stroke-width="0.6"/>
<polyline points="232.2,18.5 232.2,15.9 289.3,15.9 289.3,18" fill="none" stroke="#000" stroke-width="0.9"/>
<text x="260.90" y="14.50" font-size="5" text-anchor="middle" font-family="'Liberation Serif', serif" font-weight="normal" fill="#222" >*</text>
<rect x="345.6" y="10.5" width="132.7" height="131.8" fill="none" stroke="#b8b8b8" stroke-width="0.8"/>
<line x1="344.00" y1="136.20" x2="345.60" y2="136.20" stroke="#888" stroke-width="0.5" />
<text x="343.30" y="137.30" font-size="3.4" text-anchor="end" font-family="'Liberation Serif', serif" font-weight="normal" fill="#333" >0.00</text>
<line x1="352.40" y1="142.30" x2="352.40" y2="143.80" stroke="#888" stroke-width="0.5" />
<text x="352.40" y="146.50" font-size="3.4" text-anchor="middle" font-family="'Liberation Serif', serif" font-weight="normal" fill="#333" >0.00</text>
<line x1="344.00" y1="106.17" x2="345.60" y2="106.17" stroke="#888" stroke-width="0.5" />
<text x="343.30" y="107.27" font-size="3.4" text-anchor="end" font-family="'Liberation Serif', serif" font-weight="normal" fill="#333" >0.25</text>
<line x1="382.30" y1="142.30" x2="382.30" y2="143.80" stroke="#888" stroke-width="0.5" />
<text x="382.30" y="146.50" font-size="3.4" text-anchor="middle" font-family="'Liberation Serif', serif" font-weight="normal" fill="#333" >0.25</text>
<line x1="344.00" y1="76.15" x2="345.60" y2="76.15" stroke="#888" stroke-width="0.5" />
<text x="343.30" y="77.25" font-size="3.4" text-anchor="end" font-family="'Liberation Serif', serif" font-weight="normal" fill="#333" >0.50</text>
<line x1="412.20" y1="142.30" x2="412.20" y2="143.80" stroke="#888" stroke-width="0.5" />
<text x="412.20" y="146.50" font-size="3.4" text-anchor="middle" font-family="'Liberation Serif', serif" font-weight="normal" fill="#333" >0.50</text>
<line x1="344.00" y1="46.12" x2="345.60" y2="46.12" stroke="#888" stroke-width="0.5" />
<text x="343.30" y="47.23" font-size="3.4" text-anchor="end" font-family="'Liberation Serif', serif" font-weight="normal" fill="#333" >0.75</text>
<line x1="442.10" y1="142.30" x2="442.10" y2="143.80" stroke="#888" stroke-width="0.5" />
<text x="442.10" y="146.50" font-size="3.4" text-anchor="middle" font-family="'Liberation Serif', serif" font-weight="normal" fill="#333" >0.75</text>
<line x1="344.00" y1="16.10" x2="345.60" y2="16.10" stroke="#888" stroke-width="0.5" />
<text x="343.30" y="17.20" font-size="3.4" text-anchor="end" font-family="'Liberation Serif', serif" font-weight="normal" fill="#333" >1.00</text>
<line x1="472.00" y1="142.30" x2="472.00" y2="143.80" stroke="#888" stroke-width="0.5" />
<text x="472.00" y="146.50" font-size="3.4" text-anchor="middle" font-family="'Liberation Serif', serif" font-weight="normal" fill="#333" >1.00</text>
<text x="410.80" y="150.60" font-size="3.5" text-anchor="middle" font-family="'Liberation Serif', serif" font-weight="normal" fill="#222" >False positive fraction</text>
<text x="336.60" y="81.00" font-size="3.8" text-anchor="middle" font-family="'Liberation Serif', serif" font-weight="normal" fill="#222" transform="rotate(-90 336.6 81)" >True positive fraction</text>
<polyline points="352.40,136.20 354.39,133.27 356.39,130.38 358.38,127.51 360.37,124.68 362.37,121.88 364.36,119.11 366.35,116.37 368.35,113.66 370.34,110.99 372.33,108.34 374.33,105.73 376.32,103.15 378.31,100.60 380.31,98.08 382.30,95.59 384.29,93.13 386.29,90.71 388.28,88.32 390.27,85.95 392.27,83.62 394.26,81.32 396.25,79.06 398.25,76.82 400.24,74.61 402.23,72.44 404.23,70.30 406.22,68.18 408.21,66.10 410.21,64.06 412.20,62.04 414.19,60.05 416.19,58.10 418.18,56.17 420.17,54.28 422.17,52.42 424.16,50.59 426.15,48.79 428.15,47.03 430.14,45.29 432.13,43.59 434.13,41.92 436.12,40.28 438.11,38.67 440.11,37.09 442.10,35.54 444.09,34.03 446.09,32.54 448.08,31.09 450.07,29.67 452.07,28.28 454.06,26.92 456.05,25.59 458.05,24.29 460.04,23.03 462.03,21.80 464.03,20.59 466.02,19.42 468.01,18.28 470.01,17.18 472.00,16.10" fill="none" stroke="#d6452e" stroke-width="1.1"/>
<polyline points="352.40,136.20 354.39,132.98 356.39,129.80 358.38,126.66 360.37,123.56 362.37,120.50 364.36,117.49 366.35,114.51 368.35,111.58 370.34,108.69 372.33,105.84 374.33,103.03 376.32,100.27 378.31,97.54 380.31,94.86 382.30,92.21 384.29,89.61 386.29,87.05 388.28,84.53 390.27,82.06 392.27,79.62 394.26,77.22 396.25,74.87 398.25,72.56 400.24,70.29 402.23,68.06 404.23,65.87 406.22,63.73 408.21,61.62 410.21,59.56 412.20,57.53 414.19,55.55 416.19,53.61 418.18,51.72 420.17,49.86 422.17,48.04 424.16,46.27 426.15,44.54 428.15,42.84 430.14,41.19 432.13,39.59 434.13,38.02 436.12,36.49 438.11,35.01 440.11,33.57 442.10,32.16 444.09,30.80 446.09,29.48 448.08,28.21 450.07,26.97 452.07,25.77 454.06,24.62 456.05,23.51 458.05,22.44 460.04,21.41 462.03,20.42 464.03,19.47 466.02,18.57 468.01,17.70 470.01,16.88 472.00,16.10" fill="none" stroke="#2b86c6" stroke-width="1.1"/>
<polyline points="352.40,136.20 354.39,132.23 356.39,128.33 358.38,124.49 360.37,120.72 362.37,117.02 364.36,113.38 366.35,109.81 368.35,106.31 370.34,102.87 372.33,99.50 374.33,96.20 376.32,92.96 378.31,89.79 380.31,86.69 382.30,83.66 384.29,80.69 386.29,77.78 388.28,74.95 390.27,72.18 392.27,69.48 394.26,66.84 396.25,64.27 398.25,61.77 400.24,59.34 402.23,56.97 404.23,54.67 406.22,52.43 408.21,50.26 410.21,48.16 412.20,46.12 414.19,44.16 416.19,42.26 418.18,40.42 420.17,38.65 422.17,36.95 424.16,35.32 426.15,33.75 428.15,32.25 430.14,30.81 432.13,29.44 434.13,28.14 436.12,26.91 438.11,25.74 440.11,24.64 442.10,23.61 444.09,22.64 446.09,21.74 448.08,20.90 450.07,20.14 452.07,19.44 454.06,18.80 456.05,18.24 458.05,17.73 460.04,17.30 462.03,16.93 464.03,16.63 466.02,16.40 468.01,16.23 470.01,16.13 472.00,16.10" fill="none" stroke="#f0962a" stroke-width="1.1"/>
<text x="409.40" y="119.60" font-size="3.6" text-anchor="start" font-family="'Liberation Serif', serif" font-weight="normal" fill="#222" >Type</text>
<line x1="409.80" y1="125.70" x2="414.60" y2="125.70" stroke="#d6452e" stroke-width="1.3" />
<text x="416.70" y="126.80" font-size="3.5" text-anchor="start" font-family="'Liberation Serif', serif" font-weight="normal" fill="#222" >1-Years,AUC=0.579,95%CI(0.494-0.663)</text>
<line x1="409.80" y1="131.45" x2="414.60" y2="131.45" stroke="#2b86c6" stroke-width="1.3" />
<text x="416.70" y="132.55" font-size="3.5" text-anchor="start" font-family="'Liberation Serif', serif" font-weight="normal" fill="#222" >2-Years,AUC=0.603,95%CI(0.508-0.698)</text>
<line x1="409.80" y1="137.20" x2="414.60" y2="137.20" stroke="#f0962a" stroke-width="1.3" />
<text x="416.70" y="138.30" font-size="3.5" text-anchor="start" font-family="'Liberation Serif', serif" font-weight="normal" fill="#222" >3-Years,AUC=0.668,95%CI(0.549-0.78)</text>
<polygon points="196.60,191.30 201.91,191.30 201.91,191.30 203.24,191.30 203.24,193.88 204.57,193.88 204.57,196.47 205.54,196.47 205.54,198.88 206.52,198.88 206.52,201.30 207.49,201.30 207.49,203.71 208.15,203.71 208.15,205.78 208.82,205.78 208.82,207.84 209.48,207.84 209.48,209.91 210.15,209.91 210.15,211.98 210.84,211.98 210.84,214.05 211.54,214.05 211.54,216.12 212.24,216.12 212.24,218.18 212.93,218.18 212.93,220.25 214.73,220.25 214.73,222.32 216.52,222.32 216.52,224.39 217.85,224.39 217.85,226.32 219.18,226.32 219.18,228.25 220.50,228.25 220.50,230.18 222.05,230.18 222.05,232.76 223.60,232.76 223.60,235.35 225.15,235.35 225.15,237.93 232.06,237.93 232.06,242.59 236.71,242.59 236.71,245.69 251.45,245.69 251.45,248.89 318.11,248.89 318.11,248.89 318.11,274.64 318.11,274.64 267.65,274.64 267.65,271.44 252.91,271.44 252.91,268.33 239.76,268.33 239.76,266.06 230.46,266.06 230.46,258.51 225.68,258.51 225.68,256.18 224.06,256.18 224.06,253.86 222.43,253.86 222.43,251.53 220.80,251.53 220.80,249.20 219.18,249.20 219.18,246.88 217.88,246.88 217.88,244.55 216.59,244.55 216.59,242.22 215.29,242.22 215.29,239.90 214.00,239.90 214.00,237.57 213.30,237.57 213.30,235.25 212.60,235.25 212.60,232.92 211.91,232.92 211.91,230.59 211.21,230.59 211.21,228.52 210.57,228.52 210.57,226.46 209.93,226.46 209.93,224.39 209.30,224.39 209.30,222.32 208.66,222.32 208.66,220.25 208.02,220.25 208.02,218.18 207.16,218.18 207.16,216.12 206.29,216.12 206.29,214.05 205.43,214.05 205.43,211.98 204.57,211.98 204.57,209.91 203.90,209.91 203.90,207.84 203.24,207.84 203.24,205.78 202.58,205.78 202.58,203.71 201.91,203.71 201.91,201.64 201.25,201.64 201.25,199.23 200.58,199.23 200.58,196.81 199.92,196.81 199.92,194.40 199.26,194.40 199.26,191.30 196.60,191.30" fill="#3d6fb6" fill-opacity="0.36"/>
<polygon points="196.60,191.30 200.58,191.30 200.58,191.30 201.91,191.30 201.91,193.88 203.24,193.88 203.24,196.47 204.30,196.47 204.30,198.95 205.36,198.95 205.36,201.43 206.43,201.43 206.43,203.91 207.49,203.91 207.49,206.40 208.99,206.40 208.99,208.60 210.50,208.60 210.50,210.81 212.00,210.81 212.00,213.01 212.64,213.01 212.64,215.34 213.27,215.34 213.27,217.67 213.90,217.67 213.90,219.99 214.53,219.99 214.53,222.32 215.25,222.32 215.25,224.80 215.96,224.80 215.96,227.28 216.68,227.28 216.68,229.76 217.40,229.76 217.40,232.25 218.11,232.25 218.11,234.73 218.71,234.73 218.71,236.80 219.31,236.80 219.31,238.86 219.91,238.86 219.91,240.93 220.50,240.93 220.50,243.00 221.39,243.00 221.39,245.41 222.27,245.41 222.27,247.83 223.16,247.83 223.16,250.24 224.49,250.24 224.49,252.31 225.82,252.31 225.82,254.37 229.80,254.37 229.80,256.44 239.10,256.44 239.10,259.54 251.05,259.54 251.05,262.13 267.65,262.13 267.65,263.68 267.65,294.70 267.65,291.80 262.07,291.80 262.07,284.77 244.67,284.77 244.67,280.02 229.67,280.02 229.67,274.02 223.16,274.02 223.16,271.61 221.83,271.61 221.83,269.19 220.50,269.19 220.50,266.78 219.18,266.78 219.18,264.71 218.51,264.71 218.51,262.65 217.85,262.65 217.85,260.58 217.18,260.58 217.18,258.51 216.52,258.51 216.52,256.44 215.86,256.44 215.86,253.96 215.32,253.96 215.32,251.48 214.79,251.48 214.79,249.00 214.26,249.00 214.26,246.52 213.73,246.52 213.73,244.03 213.20,244.03 213.20,241.76 212.80,241.76 212.80,239.48 212.40,239.48 212.40,237.21 212.00,237.21 212.00,234.93 211.61,234.93 211.61,232.66 211.21,232.66 211.21,230.18 210.60,230.18 210.60,227.70 209.99,227.70 209.99,225.22 209.38,225.22 209.38,222.73 208.76,222.73 208.76,220.25 208.15,220.25 208.15,218.18 207.42,218.18 207.42,216.12 206.69,216.12 206.69,214.05 205.96,214.05 205.96,211.98 205.23,211.98 205.23,209.91 204.53,209.91 204.53,207.84 203.84,207.84 203.84,205.78 203.14,205.78 203.14,203.71 202.44,203.71 202.44,201.64 201.81,201.64 201.81,199.57 201.18,199.57 201.18,197.50 200.55,197.50 200.55,195.44 199.92,195.44 199.92,193.37 198.26,193.37 198.26,191.30 196.60,191.30" fill="#f03c3c" fill-opacity="0.36"/>
<polyline points="196.60,191.30 199.26,191.30 199.26,191.30 199.74,191.30 199.74,193.71 200.23,193.71 200.23,196.13 200.72,196.13 200.72,198.54 201.43,198.54 201.43,200.61 202.15,200.61 202.15,202.67 202.87,202.67 202.87,204.74 203.59,204.74 203.59,206.81 204.30,206.81 204.30,208.88 205.54,208.88 205.54,211.29 206.78,211.29 206.78,213.70 208.02,213.70 208.02,216.12 208.66,216.12 208.66,218.60 209.30,218.60 209.30,221.08 209.93,221.08 209.93,223.56 210.57,223.56 210.57,226.04 211.21,226.04 211.21,228.52 212.34,228.52 212.34,230.85 213.47,230.85 213.47,233.18 219.71,233.18 219.71,236.38 219.97,236.38 219.97,238.45 220.24,238.45 220.24,240.52 220.50,240.52 220.50,242.59 221.52,242.59 221.52,244.69 222.54,244.69 222.54,246.79 223.56,246.79 223.56,248.89 227.41,248.89 227.41,253.55 229.67,253.55 229.67,255.92 233.65,255.92 233.65,257.48 238.17,257.48 238.17,258.92 240.56,258.92 240.56,261.41 254.50,261.41 254.50,264.51 318.11,264.51 318.11,264.51" fill="none" stroke="#1d4f9c" stroke-width="1.3"/>
<polyline points="196.60,191.30 199.26,191.30 199.26,191.61 199.99,191.61 199.99,193.68 200.72,193.68 200.72,195.75 201.43,195.75 201.43,198.16 202.13,198.16 202.13,200.57 202.84,200.57 202.84,202.98 203.59,202.98 203.59,205.47 204.35,205.47 204.35,207.95 205.10,207.95 205.10,210.43 205.81,210.43 205.81,212.60 206.52,212.60 206.52,214.77 207.22,214.77 207.22,216.94 208.09,216.94 208.09,219.63 208.95,219.63 208.95,222.32 209.97,222.32 209.97,224.39 210.99,224.39 210.99,226.46 212.00,226.46 212.00,228.52 212.57,228.52 212.57,230.88 213.13,230.88 213.13,233.23 213.70,233.23 213.70,235.58 214.26,235.58 214.26,237.93 214.79,237.93 214.79,240.28 215.32,240.28 215.32,242.62 215.86,242.62 215.86,244.96 216.39,244.96 216.39,247.31 216.92,247.31 216.92,249.65 217.45,249.65 217.45,252.00 218.18,252.00 218.18,254.32 218.91,254.32 218.91,256.65 219.44,256.65 219.44,258.72 219.97,258.72 219.97,260.78 220.50,260.78 220.50,262.85 220.99,262.85 220.99,264.96 221.48,264.96 221.48,267.06 221.96,267.06 221.96,269.16 224.36,269.16 224.36,269.99 227.41,269.99 227.41,270.71 229.00,270.71 229.00,273.81 241.35,273.81 241.35,278.57 254.50,278.57 254.50,283.95 263.66,283.95 263.66,284.77 264.46,284.77 264.46,289.43 267.65,289.43 267.65,294.70" fill="none" stroke="#ea1a22" stroke-width="1.3"/>
<line x1="241.62" y1="259.91" x2="241.62" y2="262.91" stroke="#1d4f9c" stroke-width="0.8" />
<line x1="244.14" y1="259.91" x2="244.14" y2="262.91" stroke="#1d4f9c" stroke-width="0.8" />
<line x1="246.27" y1="259.91" x2="246.27" y2="262.91" stroke="#1d4f9c" stroke-width="0.8" />
<line x1="250.38" y1="259.91" x2="250.38" y2="262.91" stroke="#1d4f9c" stroke-width="0.8" />
<line x1="253.57" y1="259.91" x2="253.57" y2="262.91" stroke="#1d4f9c" stroke-width="0.8" />
<line x1="257.56" y1="263.01" x2="257.56" y2="266.01" stroke="#1d4f9c" stroke-width="0.8" />
<line x1="264.33" y1="263.01" x2="264.33" y2="266.01" stroke="#1d4f9c" stroke-width="0.8" />
<line x1="274.82" y1="263.01" x2="274.82" y2="266.01" stroke="#1d4f9c" stroke-width="0.8" />
<line x1="277.21" y1="263.01" x2="277.21" y2="266.01" stroke="#1d4f9c" stroke-width="0.8" />
<line x1="279.73" y1="263.01" x2="279.73" y2="266.01" stroke="#1d4f9c" stroke-width="0.8" />
<line x1="282.39" y1="263.01" x2="282.39" y2="266.01" stroke="#1d4f9c" stroke-width="0.8" />
<line x1="284.91" y1="263.01" x2="284.91" y2="266.01" stroke="#1d4f9c" stroke-width="0.8" />
<line x1="287.70" y1="263.01" x2="287.70" y2="266.01" stroke="#1d4f9c" stroke-width="0.8" />
<line x1="318.11" y1="263.01" x2="318.11" y2="266.01" stroke="#1d4f9c" stroke-width="0.8" />
<line x1="197.93" y1="189.80" x2="197.93" y2="192.80" stroke="#ea1a22" stroke-width="0.8" />
<line x1="200.58" y1="192.18" x2="200.58" y2="195.18" stroke="#ea1a22" stroke-width="0.8" />
<line x1="208.55" y1="218.13" x2="208.55" y2="221.13" stroke="#ea1a22" stroke-width="0.8" />
<line x1="264.99" y1="287.93" x2="264.99" y2="290.93" stroke="#ea1a22" stroke-width="0.8" />
<rect x="190.6" y="186.1" width="133.6" height="114.1" fill="none" stroke="#222" stroke-width="0.9"/>
<line x1="188.10" y1="294.70" x2="190.60" y2="294.70" stroke="#222" stroke-width="0.8" />
<text x="186.30" y="297.00" font-size="6.6" text-anchor="end" font-family="'Liberation Serif', serif" font-weight="normal" fill="#222" >0.0</text>
<line x1="188.10" y1="274.02" x2="190.60" y2="274.02" stroke="#222" stroke-width="0.8" />
<text x="186.30" y="276.32" font-size="6.6" text-anchor="end" font-family="'Liberation Serif', serif" font-weight="normal" fill="#222" >0.2</text>
<line x1="188.10" y1="253.34" x2="190.60" y2="253.34" stroke="#222" stroke-width="0.8" />
<text x="186.30" y="255.64" font-size="6.6" text-anchor="end" font-family="'Liberation Serif', serif" font-weight="normal" fill="#222" >0.4</text>
<line x1="188.10" y1="232.66" x2="190.60" y2="232.66" stroke="#222" stroke-width="0.8" />
<text x="186.30" y="234.96" font-size="6.6" text-anchor="end" font-family="'Liberation Serif', serif" font-weight="normal" fill="#222" >0.6</text>
<line x1="188.10" y1="211.98" x2="190.60" y2="211.98" stroke="#222" stroke-width="0.8" />
<text x="186.30" y="214.28" font-size="6.6" text-anchor="end" font-family="'Liberation Serif', serif" font-weight="normal" fill="#222" >0.8</text>
<line x1="188.10" y1="191.30" x2="190.60" y2="191.30" stroke="#222" stroke-width="0.8" />
<text x="186.30" y="193.60" font-size="6.6" text-anchor="end" font-family="'Liberation Serif', serif" font-weight="normal" fill="#222" >1.0</text>
<line x1="196.60" y1="300.20" x2="196.60" y2="302.70" stroke="#222" stroke-width="0.8" />
<text x="196.60" y="308.80" font-size="6.6" text-anchor="middle" font-family="'Liberation Serif', serif" font-weight="normal" fill="#222" >0</text>
<line x1="229.80" y1="300.20" x2="229.80" y2="302.70" stroke="#222" stroke-width="0.8" />
<text x="229.80" y="308.80" font-size="6.6" text-anchor="middle" font-family="'Liberation Serif', serif" font-weight="normal" fill="#222" >25</text>
<line x1="263.00" y1="300.20" x2="263.00" y2="302.70" stroke="#222" stroke-width="0.8" />
<text x="263.00" y="308.80" font-size="6.6" text-anchor="middle" font-family="'Liberation Serif', serif" font-weight="normal" fill="#222" >50</text>
<line x1="296.20" y1="300.20" x2="296.20" y2="302.70" stroke="#222" stroke-width="0.8" />
<text x="296.20" y="308.80" font-size="6.6" text-anchor="middle" font-family="'Liberation Serif', serif" font-weight="normal" fill="#222" >75</text>
<text x="258.00" y="317.50" font-size="7.5" text-anchor="middle" font-family="'Liberation Serif', serif" font-weight="normal" fill="#222" textLength="42" lengthAdjust="spacingAndGlyphs">Time (months)</text>
<text x="174.60" y="243.15" font-size="7.2" text-anchor="middle" font-family="'Liberation Serif', serif" font-weight="normal" fill="#111" transform="rotate(-90 174.6 243.14999999999998)" >Survival probability</text>
<text x="295.00" y="192.60" font-size="5.8" text-anchor="start" font-family="'Liberation Serif', serif" font-weight="normal" fill="#222" textLength="21" lengthAdjust="spacingAndGlyphs">COL12A1</text>
<rect x="296" y="195.0" width="9.8" height="5.2" fill="#3d6fb6" fill-opacity="0.36"/>
<line x1="296.00" y1="197.60" x2="305.80" y2="197.60" stroke="#1d4f9c" stroke-width="1.2" />
<line x1="300.90" y1="196.30" x2="300.90" y2="198.90" stroke="#1d4f9c" stroke-width="0.8" />
<text x="308.60" y="199.40" font-size="4.8" text-anchor="start" font-family="'Liberation Serif', serif" font-weight="normal" fill="#222" >Low</text>
<rect x="296" y="201.6" width="9.8" height="5.2" fill="#f03c3c" fill-opacity="0.36"/>
<line x1="296.00" y1="204.20" x2="305.80" y2="204.20" stroke="#ea1a22" stroke-width="1.2" />
<line x1="300.90" y1="202.90" x2="300.90" y2="205.50" stroke="#ea1a22" stroke-width="0.8" />
<text x="308.60" y="206.00" font-size="4.8" text-anchor="start" font-family="'Liberation Serif', serif" font-weight="normal" fill="#222" >High</text>
<text x="196.60" y="280.60" font-size="5.4" text-anchor="start" font-family="'Liberation Serif', serif" font-weight="normal" fill="#222" >Progress Free Interval</text>
<text x="196.60" y="287.40" font-size="5.4" text-anchor="start" font-family="'Liberation Serif', serif" font-weight="normal" fill="#222" >HR = 1.54 (1.04−2.29)</text>
<text x="196.60" y="294.00" font-size="5.4" text-anchor="start" font-family="'Liberation Serif', serif" font-weight="normal" fill="#222" >P = 0.031</text>
<polygon points="353.60,192.30 358.85,192.30 358.85,192.30 360.95,192.30 360.95,192.60 363.65,192.60 363.65,195.29 366.34,195.29 366.34,197.97 368.51,197.97 368.51,200.19 370.67,200.19 370.67,202.42 372.16,202.42 372.16,204.78 373.65,204.78 373.65,207.14 375.14,207.14 375.14,209.50 376.78,209.50 376.78,212.03 378.42,212.03 378.42,214.56 380.06,214.56 380.06,216.69 381.70,216.69 381.70,218.81 382.76,218.81 382.76,220.94 383.81,220.94 383.81,223.06 473.90,223.06 473.90,223.06 473.90,249.28 473.90,249.28 385.64,249.28 385.64,246.95 383.81,246.95 383.81,244.42 381.84,244.42 381.84,241.89 379.87,241.89 379.87,239.53 378.55,239.53 378.55,237.17 377.24,237.17 377.24,234.80 375.93,234.80 375.93,232.78 374.94,232.78 374.94,230.76 373.96,230.76 373.96,228.73 372.97,228.73 372.97,226.71 371.99,226.71 371.99,224.68 371.00,224.68 371.00,222.66 370.02,222.66 370.02,220.64 369.03,220.64 369.03,218.61 368.05,218.61 368.05,216.59 367.06,216.59 367.06,214.56 366.08,214.56 366.08,212.54 365.09,212.54 365.09,210.52 364.11,210.52 364.11,208.49 362.96,208.49 362.96,206.47 361.81,206.47 361.81,204.44 360.66,204.44 360.66,202.42 359.51,202.42 359.51,200.06 358.42,200.06 358.42,197.70 357.32,197.70 357.32,195.34 356.23,195.34 356.23,192.30 353.60,192.30" fill="#3d6fb6" fill-opacity="0.36"/>
<polygon points="353.60,192.30 360.17,192.30 360.17,192.30 361.48,192.30 361.48,194.32 362.79,194.32 362.79,196.35 364.11,196.35 364.11,198.37 365.42,198.37 365.42,200.40 366.73,200.40 366.73,202.42 368.05,202.42 368.05,204.44 369.36,204.44 369.36,206.47 370.67,206.47 370.67,208.49 371.99,208.49 371.99,210.85 373.30,210.85 373.30,213.21 374.61,213.21 374.61,215.58 375.71,215.58 375.71,217.94 376.80,217.94 376.80,220.30 377.90,220.30 377.90,222.66 378.29,222.66 378.29,224.68 378.68,224.68 378.68,226.71 379.08,226.71 379.08,228.73 379.47,228.73 379.47,230.76 379.87,230.76 379.87,232.78 380.26,232.78 380.26,235.01 380.65,235.01 380.65,237.23 381.05,237.23 381.05,239.46 381.44,239.46 381.44,241.69 381.84,241.69 381.84,243.91 389.58,243.91 389.58,247.96 422.68,247.96 422.68,252.01 449.47,252.01 449.47,252.01 449.47,288.54 449.47,288.54 419.53,288.54 419.53,283.89 412.96,283.89 412.96,272.75 385.91,272.75 385.91,263.14 381.18,263.14 381.18,261.12 380.65,261.12 380.65,259.09 380.13,259.09 380.13,257.07 379.60,257.07 379.60,255.04 379.08,255.04 379.08,253.02 378.55,253.02 378.55,250.69 377.76,250.69 377.76,248.36 376.98,248.36 376.98,246.04 376.19,246.04 376.19,243.51 375.84,243.51 375.84,240.98 375.49,240.98 375.49,238.45 375.14,238.45 375.14,236.27 374.32,236.27 374.32,234.10 373.50,234.10 373.50,231.92 372.68,231.92 372.68,229.74 371.85,229.74 371.85,227.54 371.03,227.54 371.03,225.34 370.21,225.34 370.21,223.14 369.39,223.14 369.39,220.94 368.57,220.94 368.57,218.75 367.70,218.75 367.70,216.57 366.84,216.57 366.84,214.38 365.97,214.38 365.97,212.20 365.10,212.20 365.10,210.01 364.24,210.01 364.24,207.56 363.12,207.56 363.12,205.10 362.01,205.10 362.01,202.65 360.89,202.65 360.89,200.19 359.77,200.19 359.77,197.66 358.72,197.66 358.72,195.13 357.67,195.13 357.67,192.60 356.62,192.60 356.62,192.30 353.60,192.30" fill="#f03c3c" fill-opacity="0.36"/>
<polyline points="353.60,192.30 358.20,192.30 358.20,192.60 359.58,192.60 359.58,195.29 360.95,195.29 360.95,197.97 362.75,197.97 362.75,200.19 364.54,200.19 364.54,202.42 366.34,202.42 366.34,204.65 368.18,204.65 368.18,207.18 370.02,207.18 370.02,209.71 371.85,209.71 371.85,212.24 375.14,212.24 375.14,214.87 376.01,214.87 376.01,217.23 376.89,217.23 376.89,219.59 377.76,219.59 377.76,221.95 379.41,221.95 379.41,224.18 381.05,224.18 381.05,226.40 381.81,226.40 381.81,228.75 382.57,228.75 382.57,231.10 383.33,231.10 383.33,233.45 384.09,233.45 384.09,235.80 384.86,235.80 384.86,238.14 474.03,238.14 474.03,238.14" fill="none" stroke="#1d4f9c" stroke-width="1.3"/>
<polyline points="353.60,192.30 358.72,192.30 358.72,192.60 359.58,192.60 359.58,194.73 360.43,194.73 360.43,196.85 361.70,196.85 361.70,199.45 362.97,199.45 362.97,202.05 364.24,202.05 364.24,204.65 365.33,204.65 365.33,207.18 366.43,207.18 366.43,209.71 367.52,209.71 367.52,212.24 368.79,212.24 368.79,214.43 370.06,214.43 370.06,216.62 371.33,216.62 371.33,218.81 371.85,218.81 371.85,221.00 372.38,221.00 372.38,223.19 372.91,223.19 372.91,225.37 373.43,225.37 373.43,227.56 373.96,227.56 373.96,229.74 374.55,229.74 374.55,231.87 375.14,231.87 375.14,233.99 378.42,233.99 378.42,236.22 379.34,236.22 379.34,237.33 380.39,237.33 380.39,253.22 381.31,253.22 381.31,254.13 384.07,254.13 384.07,255.95 384.99,255.95 384.99,260.51 386.83,260.51 386.83,262.43 394.31,262.43 394.31,266.18 412.04,266.18 412.04,272.75 420.05,272.75 420.05,280.14 450.39,280.14 450.39,280.14" fill="none" stroke="#ea1a22" stroke-width="1.3"/>
<line x1="386.83" y1="236.64" x2="386.83" y2="239.64" stroke="#1d4f9c" stroke-width="0.8" />
<line x1="388.67" y1="236.64" x2="388.67" y2="239.64" stroke="#1d4f9c" stroke-width="0.8" />
<line x1="391.55" y1="236.64" x2="391.55" y2="239.64" stroke="#1d4f9c" stroke-width="0.8" />
<line x1="394.31" y1="236.64" x2="394.31" y2="239.64" stroke="#1d4f9c" stroke-width="0.8" />
<line x1="397.07" y1="236.64" x2="397.07" y2="239.64" stroke="#1d4f9c" stroke-width="0.8" />
<line x1="400.75" y1="236.64" x2="400.75" y2="239.64" stroke="#1d4f9c" stroke-width="0.8" />
<line x1="402.59" y1="236.64" x2="402.59" y2="239.64" stroke="#1d4f9c" stroke-width="0.8" />
<line x1="406.39" y1="236.64" x2="406.39" y2="239.64" stroke="#1d4f9c" stroke-width="0.8" />
<line x1="409.15" y1="236.64" x2="409.15" y2="239.64" stroke="#1d4f9c" stroke-width="0.8" />
<line x1="412.04" y1="236.64" x2="412.04" y2="239.64" stroke="#1d4f9c" stroke-width="0.8" />
<line x1="421.23" y1="236.64" x2="421.23" y2="239.64" stroke="#1d4f9c" stroke-width="0.8" />
<line x1="431.48" y1="236.64" x2="431.48" y2="239.64" stroke="#1d4f9c" stroke-width="0.8" />
<line x1="434.37" y1="236.64" x2="434.37" y2="239.64" stroke="#1d4f9c" stroke-width="0.8" />
<line x1="437.13" y1="236.64" x2="437.13" y2="239.64" stroke="#1d4f9c" stroke-width="0.8" />
<line x1="440.02" y1="236.64" x2="440.02" y2="239.64" stroke="#1d4f9c" stroke-width="0.8" />
<line x1="443.69" y1="236.64" x2="443.69" y2="239.64" stroke="#1d4f9c" stroke-width="0.8" />
<line x1="445.53" y1="236.64" x2="445.53" y2="239.64" stroke="#1d4f9c" stroke-width="0.8" />
<line x1="454.07" y1="236.64" x2="454.07" y2="239.64" stroke="#1d4f9c" stroke-width="0.8" />
<line x1="473.90" y1="236.64" x2="473.90" y2="239.64" stroke="#1d4f9c" stroke-width="0.8" />
<line x1="394.31" y1="264.68" x2="394.31" y2="267.68" stroke="#ea1a22" stroke-width="0.8" />
<line x1="409.15" y1="264.68" x2="409.15" y2="267.68" stroke="#ea1a22" stroke-width="0.8" />
<line x1="447.50" y1="278.64" x2="447.50" y2="281.64" stroke="#ea1a22" stroke-width="0.8" />
<rect x="348.7" y="186.3" width="131.0" height="112.89999999999998" fill="none" stroke="#222" stroke-width="0.9"/>
<line x1="346.20" y1="293.50" x2="348.70" y2="293.50" stroke="#222" stroke-width="0.8" />
<text x="344.40" y="295.80" font-size="6.6" text-anchor="end" font-family="'Liberation Serif', serif" font-weight="normal" fill="#222" >0.0</text>
<line x1="346.20" y1="273.26" x2="348.70" y2="273.26" stroke="#222" stroke-width="0.8" />
<text x="344.40" y="275.56" font-size="6.6" text-anchor="end" font-family="'Liberation Serif', serif" font-weight="normal" fill="#222" >0.2</text>
<line x1="346.20" y1="253.02" x2="348.70" y2="253.02" stroke="#222" stroke-width="0.8" />
<text x="344.40" y="255.32" font-size="6.6" text-anchor="end" font-family="'Liberation Serif', serif" font-weight="normal" fill="#222" >0.4</text>
<line x1="346.20" y1="232.78" x2="348.70" y2="232.78" stroke="#222" stroke-width="0.8" />
<text x="344.40" y="235.08" font-size="6.6" text-anchor="end" font-family="'Liberation Serif', serif" font-weight="normal" fill="#222" >0.6</text>
<line x1="346.20" y1="212.54" x2="348.70" y2="212.54" stroke="#222" stroke-width="0.8" />
<text x="344.40" y="214.84" font-size="6.6" text-anchor="end" font-family="'Liberation Serif', serif" font-weight="normal" fill="#222" >0.8</text>
<line x1="346.20" y1="192.30" x2="348.70" y2="192.30" stroke="#222" stroke-width="0.8" />
<text x="344.40" y="194.60" font-size="6.6" text-anchor="end" font-family="'Liberation Serif', serif" font-weight="normal" fill="#222" >1.0</text>
<line x1="353.60" y1="299.20" x2="353.60" y2="301.70" stroke="#222" stroke-width="0.8" />
<text x="353.60" y="307.80" font-size="6.6" text-anchor="middle" font-family="'Liberation Serif', serif" font-weight="normal" fill="#222" >0</text>
<line x1="386.43" y1="299.20" x2="386.43" y2="301.70" stroke="#222" stroke-width="0.8" />
<text x="386.43" y="307.80" font-size="6.6" text-anchor="middle" font-family="'Liberation Serif', serif" font-weight="normal" fill="#222" >25</text>
<line x1="419.26" y1="299.20" x2="419.26" y2="301.70" stroke="#222" stroke-width="0.8" />
<text x="419.26" y="307.80" font-size="6.6" text-anchor="middle" font-family="'Liberation Serif', serif" font-weight="normal" fill="#222" >50</text>
<line x1="452.10" y1="299.20" x2="452.10" y2="301.70" stroke="#222" stroke-width="0.8" />
<text x="452.10" y="307.80" font-size="6.6" text-anchor="middle" font-family="'Liberation Serif', serif" font-weight="normal" fill="#222" >75</text>
<text x="414.80" y="316.50" font-size="7.5" text-anchor="middle" font-family="'Liberation Serif', serif" font-weight="normal" fill="#222" textLength="42" lengthAdjust="spacingAndGlyphs">Time (months)</text>
<text x="332.70" y="242.75" font-size="7.2" text-anchor="middle" font-family="'Liberation Serif', serif" font-weight="normal" fill="#111" transform="rotate(-90 332.7 242.75)" >Survival probability</text>
<text x="451.40" y="193.40" font-size="5.8" text-anchor="start" font-family="'Liberation Serif', serif" font-weight="normal" fill="#222" textLength="21" lengthAdjust="spacingAndGlyphs">COL12A1</text>
<rect x="452.4" y="195.8" width="9.8" height="5.2" fill="#3d6fb6" fill-opacity="0.36"/>
<line x1="452.40" y1="198.40" x2="462.20" y2="198.40" stroke="#1d4f9c" stroke-width="1.2" />
<line x1="457.30" y1="197.10" x2="457.30" y2="199.70" stroke="#1d4f9c" stroke-width="0.8" />
<text x="465.00" y="200.20" font-size="4.8" text-anchor="start" font-family="'Liberation Serif', serif" font-weight="normal" fill="#222" >Low</text>
<rect x="452.4" y="202.4" width="9.8" height="5.2" fill="#f03c3c" fill-opacity="0.36"/>
<line x1="452.40" y1="205.00" x2="462.20" y2="205.00" stroke="#ea1a22" stroke-width="1.2" />
<line x1="457.30" y1="203.70" x2="457.30" y2="206.30" stroke="#ea1a22" stroke-width="0.8" />
<text x="465.00" y="206.80" font-size="4.8" text-anchor="start" font-family="'Liberation Serif', serif" font-weight="normal" fill="#222" >High</text>
<text x="354.70" y="280.60" font-size="5.4" text-anchor="start" font-family="'Liberation Serif', serif" font-weight="normal" fill="#222" >Disease Specific Survival</text>
<text x="354.70" y="287.40" font-size="5.4" text-anchor="start" font-family="'Liberation Serif', serif" font-weight="normal" fill="#222" >HR = 1.98 (1.23−3.19)</text>
<text x="354.70" y="294.00" font-size="5.4" text-anchor="start" font-family="'Liberation Serif', serif" font-weight="normal" fill="#222" >P = 0.005</text>
<text x="108.00" y="341.30" font-size="9.5" text-anchor="start" font-family="'Liberation Sans', sans-serif" font-weight="bold" fill="#111" textLength="150.4" lengthAdjust="spacingAndGlyphs" stroke="#111" stroke-width="0.08">Univariable cox regression: TCGA−PAAD</text>
<text x="37.30" y="360.00" font-size="9.6" text-anchor="start" font-family="'Liberation Sans', sans-serif" font-weight="bold" fill="#111" textLength="65.8" lengthAdjust="spacingAndGlyphs" stroke="#111" stroke-width="0.08">Stage (III/IV vs I/II)</text>
<text x="11.80" y="375.80" font-size="9.6" text-anchor="start" font-family="'Liberation Sans', sans-serif" font-weight="bold" fill="#111" textLength="91.3" lengthAdjust="spacingAndGlyphs" stroke="#111" stroke-width="0.08">Gender (Male vs Female)</text>
<text x="15.30" y="391.50" font-size="9.6" text-anchor="start" font-family="'Liberation Sans', sans-serif" font-weight="bold" fill="#111" textLength="87.8" lengthAdjust="spacingAndGlyphs" stroke="#111" stroke-width="0.08">COL12A1 (High vs Low)</text>
<text x="37.60" y="407.40" font-size="9.6" text-anchor="start" font-family="'Liberation Sans', sans-serif" font-weight="bold" fill="#111" textLength="65.5" lengthAdjust="spacingAndGlyphs" stroke="#111" stroke-width="0.08">Age (&gt;65 vs &lt;=65)</text>
<line x1="158.1" y1="350.5" x2="158.1" y2="413.4" stroke="#111" stroke-width="1.3" stroke-dasharray="3.4,2.1"/>
<line x1="113.40" y1="356.80" x2="179.40" y2="356.80" stroke="#a8a8a8" stroke-width="0.9" />
<line x1="113.40" y1="356.00" x2="113.40" y2="357.60" stroke="#a8a8a8" stroke-width="0.6" />
<line x1="179.40" y1="356.00" x2="179.40" y2="357.60" stroke="#a8a8a8" stroke-width="0.6" />
<polygon points="126.6,356.8 130,353.40000000000003 133.4,356.8 130,360.2" fill="#000"/>
<line x1="134.20" y1="372.30" x2="170.50" y2="372.30" stroke="#a8a8a8" stroke-width="0.9" />
<line x1="134.20" y1="371.50" x2="134.20" y2="373.10" stroke="#a8a8a8" stroke-width="0.6" />
<line x1="170.50" y1="371.50" x2="170.50" y2="373.10" stroke="#a8a8a8" stroke-width="0.6" />
<polygon points="146.0,372.3 149.4,368.90000000000003 152.8,372.3 149.4,375.7" fill="#000"/>
<line x1="167.00" y1="388.40" x2="245.70" y2="388.40" stroke="#a8a8a8" stroke-width="0.9" />
<line x1="167.00" y1="387.60" x2="167.00" y2="389.20" stroke="#a8a8a8" stroke-width="0.6" />
<line x1="245.70" y1="387.60" x2="245.70" y2="389.20" stroke="#a8a8a8" stroke-width="0.6" />
<polygon points="195.2,388.4 198.6,385.0 202.0,388.4 198.6,391.79999999999995" fill="#e07b76"/>
<line x1="151.10" y1="404.30" x2="208.60" y2="404.30" stroke="#a8a8a8" stroke-width="0.9" />
<line x1="151.10" y1="403.50" x2="151.10" y2="405.10" stroke="#a8a8a8" stroke-width="0.6" />
<line x1="208.60" y1="403.50" x2="208.60" y2="405.10" stroke="#a8a8a8" stroke-width="0.6" />
<polygon points="170.7,404.3 174.1,400.90000000000003 177.5,404.3 174.1,407.7" fill="#000"/>
<line x1="107.80" y1="413.40" x2="251.80" y2="413.40" stroke="#555" stroke-width="1.2" />
<line x1="158.10" y1="411.90" x2="158.10" y2="415.40" stroke="#444" stroke-width="1.0" />
<text x="158.10" y="423.80" font-size="8.6" text-anchor="middle" font-family="'Liberation Sans', sans-serif" font-weight="bold" fill="#111" textLength="4.3" lengthAdjust="spacingAndGlyphs">1</text>
<line x1="209.30" y1="411.90" x2="209.30" y2="415.40" stroke="#444" stroke-width="1.0" />
<text x="209.30" y="423.80" font-size="8.6" text-anchor="middle" font-family="'Liberation Sans', sans-serif" font-weight="bold" fill="#111" textLength="4.3" lengthAdjust="spacingAndGlyphs">2</text>
<text x="166.10" y="434.60" font-size="9.4" text-anchor="start" font-family="'Liberation Sans', sans-serif" font-weight="bold" fill="#111" textLength="29.7" lengthAdjust="spacingAndGlyphs" stroke="#111" stroke-width="0.08">HR (OS)</text>
<text x="129.60" y="434.50" font-size="8.6" text-anchor="start" font-family="'Liberation Sans', sans-serif" font-weight="normal" fill="#111" textLength="29.6" lengthAdjust="spacing" stroke="#111" stroke-width="0.25">&lt;------</text>
<text x="199.20" y="434.50" font-size="8.6" text-anchor="start" font-family="'Liberation Sans', sans-serif" font-weight="normal" fill="#111" textLength="30.2" lengthAdjust="spacing" stroke="#111" stroke-width="0.25">------&gt;</text>
<polygon points="270.79999999999995,375.8 273.9,372.7 277.0,375.8 273.9,378.9" fill="#e07b76"/>
<text x="286.30" y="378.70" font-size="9.6" text-anchor="start" font-family="'Liberation Sans', sans-serif" font-weight="bold" fill="#111" textLength="24.3" lengthAdjust="spacingAndGlyphs" stroke="#111" stroke-width="0.08">P&lt;0.05</text>
<polygon points="270.79999999999995,391.0 273.9,387.9 277.0,391.0 273.9,394.09999999999997" fill="#000"/>
<text x="286.30" y="393.20" font-size="9.6" text-anchor="start" font-family="'Liberation Sans', sans-serif" font-weight="bold" fill="#111" textLength="53.9" lengthAdjust="spacingAndGlyphs" stroke="#111" stroke-width="0.08">Not significant</text>
<text x="108.00" y="450.00" font-size="9.5" text-anchor="start" font-family="'Liberation Sans', sans-serif" font-weight="bold" fill="#111" textLength="155.9" lengthAdjust="spacingAndGlyphs" stroke="#111" stroke-width="0.08">Multivariable cox regression: TCGA−PAAD</text>
<text x="37.30" y="469.10" font-size="9.6" text-anchor="start" font-family="'Liberation Sans', sans-serif" font-weight="bold" fill="#111" textLength="65.8" lengthAdjust="spacingAndGlyphs" stroke="#111" stroke-width="0.08">Stage (III/IV vs I/II)</text>
<text x="11.80" y="484.90" font-size="9.6" text-anchor="start" font-family="'Liberation Sans', sans-serif" font-weight="bold" fill="#111" textLength="91.3" lengthAdjust="spacingAndGlyphs" stroke="#111" stroke-width="0.08">Gender (Male vs Female)</text>
<text x="15.30" y="500.90" font-size="9.6" text-anchor="start" font-family="'Liberation Sans', sans-serif" font-weight="bold" fill="#111" textLength="87.8" lengthAdjust="spacingAndGlyphs" stroke="#111" stroke-width="0.08">COL12A1 (High vs Low)</text>
<text x="37.60" y="516.70" font-size="9.6" text-anchor="start" font-family="'Liberation Sans', sans-serif" font-weight="bold" fill="#111" textLength="65.5" lengthAdjust="spacingAndGlyphs" stroke="#111" stroke-width="0.08">Age (&gt;65 vs &lt;=65)</text>
<line x1="159.3" y1="460" x2="159.3" y2="523.2" stroke="#111" stroke-width="1.3" stroke-dasharray="3.4,2.1"/>
<line x1="113.40" y1="466.20" x2="183.60" y2="466.20" stroke="#a8a8a8" stroke-width="0.9" />
<line x1="113.40" y1="465.40" x2="113.40" y2="467.00" stroke="#a8a8a8" stroke-width="0.6" />
<line x1="183.60" y1="465.40" x2="183.60" y2="467.00" stroke="#a8a8a8" stroke-width="0.6" />
<polygon points="127.29999999999998,466.2 130.7,462.8 134.1,466.2 130.7,469.59999999999997" fill="#000"/>
<line x1="134.20" y1="481.80" x2="173.40" y2="481.80" stroke="#a8a8a8" stroke-width="0.9" />
<line x1="134.20" y1="481.00" x2="134.20" y2="482.60" stroke="#a8a8a8" stroke-width="0.6" />
<line x1="173.40" y1="481.00" x2="173.40" y2="482.60" stroke="#a8a8a8" stroke-width="0.6" />
<polygon points="147.0,481.8 150.4,478.40000000000003 153.8,481.8 150.4,485.2" fill="#000"/>
<line x1="166.30" y1="497.60" x2="245.70" y2="497.60" stroke="#a8a8a8" stroke-width="0.9" />
<line x1="166.30" y1="496.80" x2="166.30" y2="498.40" stroke="#a8a8a8" stroke-width="0.6" />
<line x1="245.70" y1="496.80" x2="245.70" y2="498.40" stroke="#a8a8a8" stroke-width="0.6" />
<polygon points="194.6,497.6 198,494.20000000000005 201.4,497.6 198,501.0" fill="#d6e28c"/>
<line x1="152.20" y1="513.00" x2="213.60" y2="513.00" stroke="#a8a8a8" stroke-width="0.9" />
<line x1="152.20" y1="512.20" x2="152.20" y2="513.80" stroke="#a8a8a8" stroke-width="0.6" />
<line x1="213.60" y1="512.20" x2="213.60" y2="513.80" stroke="#a8a8a8" stroke-width="0.6" />
<polygon points="173.1,513 176.5,509.6 179.9,513 176.5,516.4" fill="#000"/>
<line x1="107.80" y1="523.20" x2="251.80" y2="523.20" stroke="#555" stroke-width="1.2" />
<line x1="159.30" y1="521.70" x2="159.30" y2="525.20" stroke="#444" stroke-width="1.0" />
<text x="159.30" y="533.40" font-size="8.6" text-anchor="middle" font-family="'Liberation Sans', sans-serif" font-weight="bold" fill="#111" textLength="4.3" lengthAdjust="spacingAndGlyphs">1</text>
<line x1="211.80" y1="521.70" x2="211.80" y2="525.20" stroke="#444" stroke-width="1.0" />
<text x="211.80" y="533.40" font-size="8.6" text-anchor="middle" font-family="'Liberation Sans', sans-serif" font-weight="bold" fill="#111" textLength="4.3" lengthAdjust="spacingAndGlyphs">2</text>
<text x="166.10" y="543.00" font-size="9.4" text-anchor="start" font-family="'Liberation Sans', sans-serif" font-weight="bold" fill="#111" textLength="29.7" lengthAdjust="spacingAndGlyphs" stroke="#111" stroke-width="0.08">HR (OS)</text>
<text x="129.60" y="542.90" font-size="8.6" text-anchor="start" font-family="'Liberation Sans', sans-serif" font-weight="normal" fill="#111" textLength="29.6" lengthAdjust="spacing" stroke="#111" stroke-width="0.25">&lt;------</text>
<text x="199.20" y="542.90" font-size="8.6" text-anchor="start" font-family="'Liberation Sans', sans-serif" font-weight="normal" fill="#111" textLength="30.2" lengthAdjust="spacing" stroke="#111" stroke-width="0.25">------&gt;</text>
<polygon points="270.79999999999995,484.90000000000003 273.9,481.8 277.0,484.90000000000003 273.9,488.0" fill="#d6e28c"/>
<text x="286.30" y="487.80" font-size="9.6" text-anchor="start" font-family="'Liberation Sans', sans-serif" font-weight="bold" fill="#111" textLength="24.3" lengthAdjust="spacingAndGlyphs" stroke="#111" stroke-width="0.08">P&lt;0.05</text>
<polygon points="270.79999999999995,500.1 273.9,497.0 277.0,500.1 273.9,503.2" fill="#000"/>
<text x="286.30" y="502.30" font-size="9.6" text-anchor="start" font-family="'Liberation Sans', sans-serif" font-weight="bold" fill="#111" textLength="53.9" lengthAdjust="spacingAndGlyphs" stroke="#111" stroke-width="0.08">Not significant</text>
</svg></body></html>
